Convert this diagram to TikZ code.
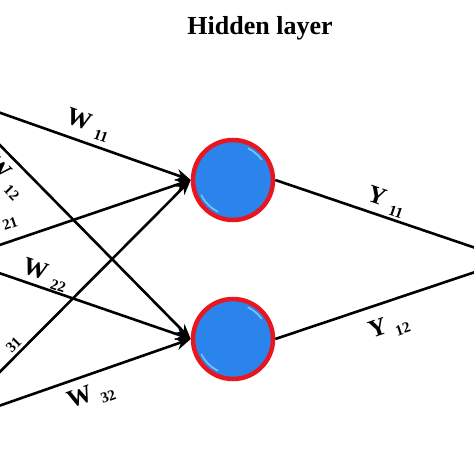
\documentclass[tikz,border=0pt]{standalone}
\usepackage{fontspec}
\setmainfont{Liberation Serif}
\usetikzlibrary{arrows.meta}

\definecolor{ringred}{RGB}{232,22,30}
\definecolor{ballblue}{RGB}{42,132,236}
\definecolor{glint}{RGB}{140,215,255}

\newcommand{\wt}[2]{#1\hspace{7pt}\raisebox{-6pt}{\fontsize{15}{15}\selectfont #2}}

\tikzset{
	hidden/.style={circle, draw=ringred, fill=ballblue, line width=4.5pt, minimum size=80pt, inner sep=0pt},
	weight/.style={font=\bfseries\fontsize{25}{25}\selectfont, inner sep=0pt},
	conn/.style={line width=2.6pt, -{Stealth[length=15pt,width=12pt]}},
	plain/.style={line width=2.6pt}
}

\begin{document}
\begin{tikzpicture}[x=1pt,y=1pt]
	\useasboundingbox (0,0) rectangle (474,474);
	\clip (0,0) rectangle (474,474);
		%title
			\node[font=\bfseries\fontsize{26}{26}\selectfont, anchor=base] (title) at (260,439.5) {Hidden layer};
		%hidden neurons
			\node[hidden] (h1) at (233,294) {};
			\node[hidden] (h2) at (233,135) {};
			\foreach \h in {h1,h2}{
				\draw[glint, line width=1.6pt, opacity=.8] (\h) ++(205:35) arc (205:245:35);
				\draw[glint, line width=1.6pt, opacity=.8] (\h) ++(35:35) arc (35:65:35);
			}
		%inputs and output (outside the frame)
			\coordinate (in1) at (-49,378.5);
			\coordinate (in2) at (-41.5,215);
			\coordinate (in3) at (-51.5,50.5);
			\coordinate (out) at (511,214);
		%weights in
			\draw[conn] (in1) -- (h1.west);
			\draw[conn] (in1) -- (h2.west);
			\draw[conn] (in2) -- (h1.west);
			\draw[conn] (in2) -- (h2.west);
			\draw[conn] (in3) -- (h1.west);
			\draw[conn] (in3) -- (h2.west);
		%weights out
			\draw[plain] (h1.east) -- (out);
			\draw[plain] (h2.east) -- (out);
		%labels
			\node[weight, rotate=-19.5] (w11) at (88,349) {\wt{W}{11}};
			\node[weight, rotate=-45.5] (w12) at (5,297) {\wt{W}{12}};
			\node[weight, rotate=18.8] (w21) at (-7,251) {\wt{W}{21}};
			\node[weight, rotate=-18.9] (w22) at (45,199) {\wt{W}{22}};
			\node[weight, rotate=45.2] (w31) at (-2,122) {\wt{W}{31}};
			\node[weight, rotate=19.8] (w32) at (91,78) {\wt{W}{32}};
			\node[weight, rotate=-18.8] (y11) at (386,272) {\wt{Y}{11}};
			\node[weight, rotate=18.5] (y12) at (389,147) {\wt{Y}{12}};
\end{tikzpicture}
\end{document}
